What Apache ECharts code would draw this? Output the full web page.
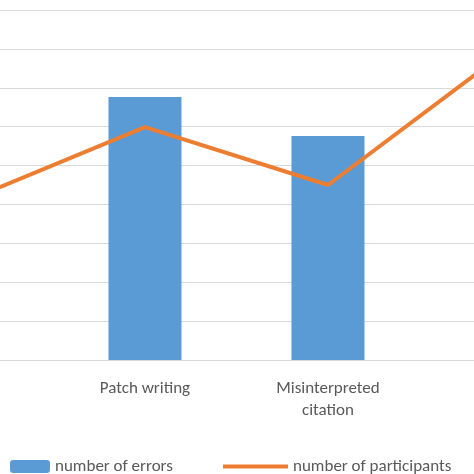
<!DOCTYPE html><html><head><meta charset="utf-8">
<script src="https://cdn.jsdelivr.net/npm/echarts@6/dist/echarts.min.js"></script>
<style>html,body{margin:0;padding:0;background:#fff}#c{width:474px;height:474px}</style></head><body><div id="c"></div>
<script>
const categories = ['Plagiarism', 'Patch writing', 'Misinterpreted\ncitation', 'Technical errors'];
const errors = [null, 6.76, 5.76, null];
const participants = [4.04, 5.99, 4.5, 8.03];
const chart = echarts.init(document.getElementById('c'));
const font = 'Calibri, Carlito, "Open Sans", sans-serif';
chart.setOption({
  animation:false,
  grid:{left:0, right:0, top:10, bottom:114},
  legend:[
    {left:5, top:453, itemWidth:40, itemHeight:13, itemGap:0, data:['number of errors'], textStyle:{fontSize:17, color:'#595959', fontFamily:font}},
    {left:218, top:453, itemWidth:65, itemHeight:4, icon:'rect', data:['number of participants'], textStyle:{fontSize:17, color:'#595959', fontFamily:font}}
  ],
  xAxis:{type:'value', min:0.2077, max:2.798, splitLine:{show:false}, axisLine:{lineStyle:{color:'#d9d9d9'}}, axisTick:{show:false},
    axisLabel:{customValues:[1,2,3], formatter:v=>categories[Math.round(v)], fontSize:17, color:'#595959', fontFamily:font, margin:18, lineHeight:22, showMinLabel:true, showMaxLabel:true, hideOverlap:false}},
  yAxis:{type:'value', min:0, max:9, interval:1, axisLabel:{show:false}, axisLine:{show:false}, axisTick:{show:false},
    splitLine:{lineStyle:{color:'#d9d9d9'}}},
  series:[
    {name:'number of errors', type:'bar', data:errors.map((v,i)=>[i,v]).filter(d=>d[1]!==null), barWidth:73, itemStyle:{color:'#5B9BD5'}},
    {name:'number of participants', type:'line', data:participants.map((v,i)=>[i,v]), clip:true, symbol:'none', lineStyle:{color:'#ED7D31', width:4}, itemStyle:{color:'#ED7D31'}}
  ]
});
</script></body></html>
